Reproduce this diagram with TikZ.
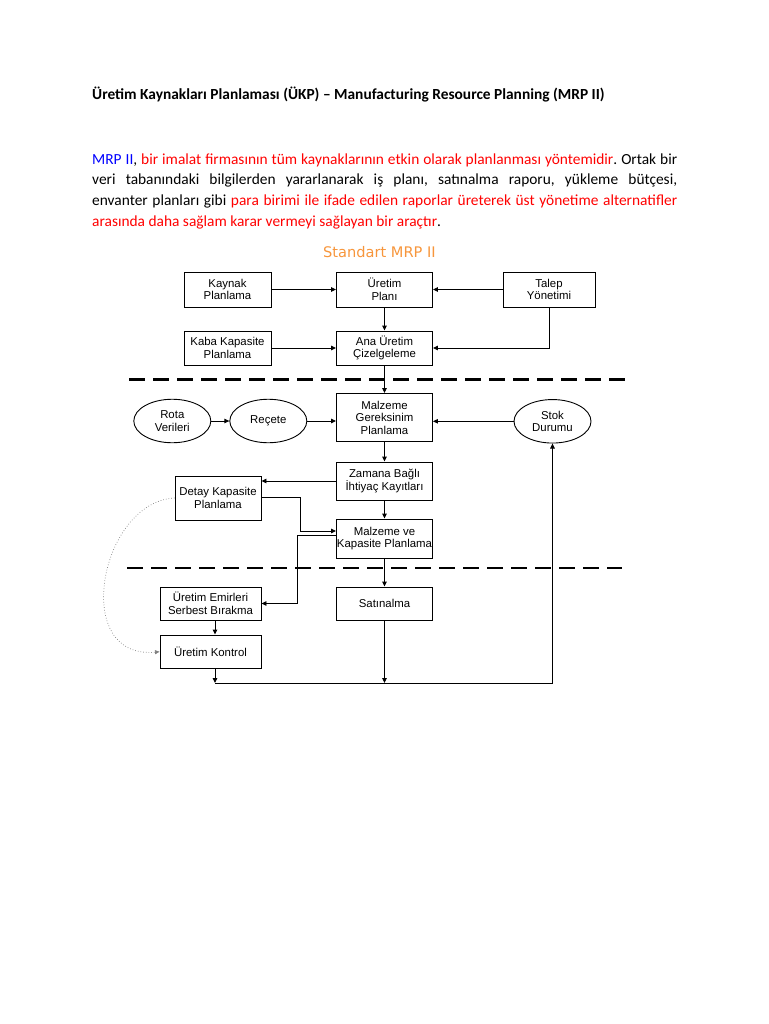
\documentclass[tikz,border=0pt]{standalone}
\usepackage{fontspec}
\setmainfont{Carlito}
\newfontfamily\diagfont{Liberation Sans}
\newfontfamily\stdfont{DejaVu Sans}
\usetikzlibrary{arrows.meta,shapes.geometric,calc}
\definecolor{txtred}{RGB}{255,0,0}
\definecolor{txtblue}{RGB}{0,0,255}
\definecolor{stdorange}{RGB}{247,150,60}
\frenchspacing
\begin{document}
\begin{tikzpicture}[x=1pt,y=-1pt,
  box/.style={draw, line width=0.9pt, rectangle, inner sep=0pt, align=center,
    font=\diagfont\fontsize{11.4}{12.5}\selectfont},
  oval/.style={draw, line width=0.9pt, ellipse, inner sep=0pt, align=center,
    font=\diagfont\fontsize{11.4}{12.5}\selectfont, minimum width=77pt, minimum height=43.5pt},
  arr/.style={-{Triangle[length=5pt,width=4.5pt]}, line width=0.9pt},
  sepline/.style={line width=2.6pt, dash pattern=on 16pt off 8pt},
  para/.style={anchor=base west, inner sep=0pt, font=\fontsize{15.4}{18}\selectfont}]
\useasboundingbox (0,0) rectangle (768,1024);

% heading and paragraph
\node[para, font=\fontsize{15.4}{18}\selectfont\bfseries] (title) at (92,100)
  {Üretim Kaynakları Planlaması (ÜKP) – Manufacturing Resource Planning (MRP II)};
\node[para] (p1) at (92,164.5) {\makebox[585pt][s]{\textcolor{txtblue}{MRP II}, \textcolor{txtred}{bir imalat firmasının tüm kaynaklarının etkin olarak planlanması yöntemidir}. Ortak bir}};
\node[para] (p2) at (92,185) {\makebox[585pt][s]{veri tabanındaki bilgilerden yararlanarak iş planı, satınalma raporu, yükleme bütçesi,}};
\node[para] (p3) at (92,205.5) {\makebox[585pt][s]{envanter planları gibi \textcolor{txtred}{para birimi ile ifade edilen raporlar üreterek üst yönetime alternatifler}}};
\node[para] (p4) at (92,226.5) {\textcolor{txtred}{arasında daha sağlam karar vermeyi sağlayan bir araçtır}.};

% diagram title
\node[anchor=base, inner sep=0pt, text=stdorange, font=\stdfont\fontsize{14.6}{16}\selectfont] (std) at (379.5,257) {Standart MRP II};

% boxes
\node[box, minimum width=87pt, minimum height=35pt] (kaynak) at (227.5,289.5) {Kaynak\\Planlama};
\node[box, minimum width=96pt, minimum height=35pt] (uplan) at (384.5,289.5) {Üretim\\Planı};
\node[box, minimum width=92pt, minimum height=35pt] (talep) at (549,289.5) {Talep\\Yönetimi};
\node[box, minimum width=87pt, minimum height=34pt] (kaba) at (227.5,348) {Kaba Kapasite\\Planlama};
\node[box, minimum width=96pt, minimum height=34pt] (ana) at (384.5,348) {Ana Üretim\\Çizelgeleme};

\node[oval] (rota) at (172.3,421) {Rota\\Verileri};
\node[oval] (recete) at (268.3,421) {Reçete};
\node[box, minimum width=96pt, minimum height=48pt] (mgp) at (384.5,417.5) {Malzeme\\Gereksinim\\Planlama};
\node[oval] (stok) at (552.5,421.3) {Stok\\Durumu};

\node[box, minimum width=96pt, minimum height=38pt] (zamana) at (384.5,481) {Zamana Bağlı\\İhtiyaç Kayıtları};
\node[box, minimum width=86pt, minimum height=44pt] (detay) at (218,498) {Detay Kapasite\\Planlama};
\node[box, minimum width=96pt, minimum height=39pt] (mk) at (384.5,538.5) {Malzeme ve\\Kapasite Planlama};

\node[box, minimum width=101pt, minimum height=33pt] (emir) at (210.5,603.5) {Üretim Emirleri\\Serbest Bırakma};
\node[box, minimum width=96pt, minimum height=33pt] (satin) at (384.5,603.5) {Satınalma};
\node[box, minimum width=101pt, minimum height=33.5pt] (kontrol) at (210.5,651.75) {Üretim Kontrol};

% separators
\draw[sepline] (129,379.5) -- (625,379.5);
\draw[sepline] (127,568) -- (622,568);

% connectors
\draw[arr] (kaynak) -- (uplan);
\draw[arr] (talep) -- (uplan);
\draw[arr] (uplan) -- (ana);
\draw[arr] (kaba) -- (ana);
\draw[arr] (talep.south) |- (ana.east);
\draw[arr] (ana) -- (mgp);
\draw[arr] (rota) -- (recete);
\draw[arr] (recete.east) -- (recete.east -| mgp.west);
\draw[arr] (stok.west) -- (stok.west -| mgp.east);
\draw[arr] (mgp) -- (zamana);
\draw[arr] (zamana.west) -- (zamana.west -| detay.east);
\draw[arr] (zamana) -- (mk);
\draw[arr] ([yshift=0.7pt]detay.east) -- ++(39,0) |- ([yshift=7.5pt]mk.west);
\draw[arr] ([yshift=3.5pt]mk.west) -- ++(-39,0) |- (emir.east);
\draw[arr] (mk) -- (satin);
\draw[arr] ([xshift=4.5pt]emir.south) -- ([xshift=4.5pt]kontrol.north);
\coordinate (b1) at (215,683);
\coordinate (b2) at (552.5,683);
\draw[arr] ([xshift=4.5pt]kontrol.south) -- (b1);
\draw[arr] (satin.south) -- (satin.south |- b1);
\draw[arr] (b1) -- (b2) -- (stok.south);
\draw[gray, dotted, line width=0.7pt, -{Triangle[length=4.5pt,width=4pt]}]
  (detay.west) .. controls (100,502) and (70,660) .. (kontrol.west);
\end{tikzpicture}
\end{document}
